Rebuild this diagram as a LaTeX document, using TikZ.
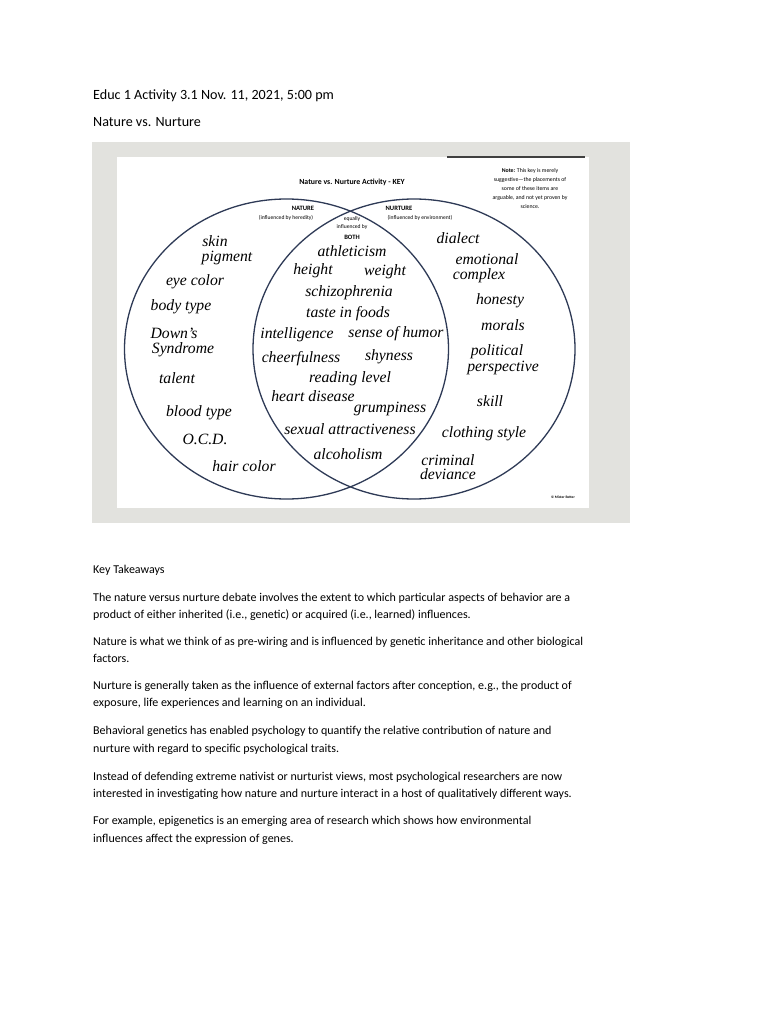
\documentclass[tikz,border=0pt]{standalone}
\usepackage{fontspec}
\setsansfont{Carlito}
\newfontfamily\hwfont{Liberation Serif}
\newcommand{\hw}{\hwfont\itshape}
\definecolor{frame}{HTML}{E2E2DE}
\definecolor{ring}{HTML}{2E3A56}
\begin{document}
\begin{tikzpicture}[x=1pt,y=-1pt,
  para/.style={anchor=west,inner sep=0pt,font=\sffamily\fontsize{12}{14}\selectfont,text height=8.5pt,text depth=2pt},
  head/.style={para,font=\sffamily\fontsize{14.1}{16}\selectfont,text height=10pt,text depth=2.5pt},
  item/.style={inner sep=0pt,yshift=-2.5pt,font=\hw\fontsize{15.7}{17}\selectfont,text height=8pt,text depth=2.4pt},
  lbl/.style={inner sep=0pt,font=\sffamily\bfseries\fontsize{6.6}{7}\selectfont},
  sub/.style={inner sep=0pt,font=\sffamily\fontsize{5.6}{6}\selectfont},
  note/.style={inner sep=0pt,font=\sffamily\fontsize{5.8}{9.2}\selectfont,align=center}]
\useasboundingbox (0,0) rectangle (768,1024);
\fill[white] (0,0) rectangle (768,1024);
% header text
\node[head] (h1) at (93,96) {Educ 1 Activity 3.1 Nov. 11, 2021, 5:00 pm};
\node[head] (h2) at (93,123) {Nature vs. Nurture};
% picture frame
\fill[frame] (92,142) rectangle (630,523);
\fill[white] (117,157) rectangle (589,508);
\draw[black!75,line width=1.2pt] (447,157) -- (585,157);
% circles
\draw[ring,line width=1.3pt] (286.5,349) ellipse [x radius=162,y radius=150];
\draw[ring,line width=1.3pt] (414,349) ellipse [x radius=161,y radius=150];
% labels
\node[lbl,font=\sffamily\bfseries\fontsize{7.8}{8}\selectfont] (title) at (352,182) {Nature vs. Nurture Activity - KEY};
\node[lbl] (nat) at (303,208) {NATURE};
\node[sub] (nats) at (286,217.5) {(influenced by heredity)};
\node[lbl] (nur) at (399,208) {NURTURE};
\node[sub] (nurs) at (420,218) {(influenced by environment)};
\node[sub] (eq1) at (352,219) {equally};
\node[sub] (eq2) at (352,227.5) {influenced by};
\node[lbl] (both) at (352,237) {BOTH};
\node[note] (note) at (530,188.5) {\textbf{Note:} This key is merely\\suggestive---the placements of\\some of these items are\\arguable, and not yet proven by\\science.};
\node[inner sep=0pt,font=\sffamily\bfseries\fontsize{3.6}{4}\selectfont] (copy) at (563,497) {\textcopyright{} Mister Rotter};
% nature items
\node[item] (n1) at (215,241) {skin};
\node[item] (n2) at (227,256) {pigment};
\node[item] (n3) at (195,280) {eye color};
\node[item] (n4) at (181,305) {body type};
\node[item] (n5) at (174,333) {Down’s};
\node[item] (n6) at (183,348) {Syndrome};
\node[item] (n7) at (177,378) {talent};
\node[item] (n8) at (199,411) {blood type};
\node[item] (n9) at (205,439) {O.C.D.};
\node[item] (n10) at (244,466) {hair color};
% both items
\node[item] (b1) at (352,251) {athleticism};
\node[item] (b2) at (313,269) {height};
\node[item] (b3) at (385,270) {weight};
\node[item] (b4) at (349,291) {schizophrenia};
\node[item] (b5) at (348,312) {taste in foods};
\node[item] (b6) at (297,333) {intelligence};
\node[item] (b7) at (396,332) {sense of humor};
\node[item] (b8) at (301,357) {cheerfulness};
\node[item] (b9) at (389,355) {shyness};
\node[item] (b10) at (350,377) {reading level};
\node[item] (b11) at (313,396) {heart disease};
\node[item] (b12) at (390,407) {grumpiness};
\node[item] (b13) at (350,429) {sexual attractiveness};
\node[item] (b14) at (348,454) {alcoholism};
% nurture items
\node[item] (r1) at (458,238) {dialect};
\node[item] (r2) at (487,259) {emotional};
\node[item] (r3) at (479,274) {complex};
\node[item] (r4) at (500,299) {honesty};
\node[item] (r5) at (503,325) {morals};
\node[item] (r6) at (497,350) {political};
\node[item] (r7) at (503,366) {perspective};
\node[item] (r8) at (490,401) {skill};
\node[item] (r9) at (484,432) {clothing style};
\node[item] (r10) at (448,460) {criminal};
\node[item] (r11) at (448,474) {deviance};
% takeaways
\node[para] (k0) at (93,570) {Key Takeaways};
\node[para] (k1) at (93,598) {The nature versus nurture debate involves the extent to which particular aspects of behavior are a};
\node[para] (k2) at (93,615) {product of either inherited (i.e., genetic) or acquired (i.e., learned) influences.};
\node[para] (k3) at (93,642) {Nature is what we think of as pre-wiring and is influenced by genetic inheritance and other biological};
\node[para] (k4) at (93,659) {factors.};
\node[para] (k5) at (93,686) {Nurture is generally taken as the influence of external factors after conception, e.g., the product of};
\node[para] (k6) at (93,703) {exposure, life experiences and learning on an individual.};
\node[para] (k7) at (93,731) {Behavioral genetics has enabled psychology to quantify the relative contribution of nature and};
\node[para] (k8) at (93,749) {nurture with regard to specific psychological traits.};
\node[para] (k9) at (93,777) {Instead of defending extreme nativist or nurturist views, most psychological researchers are now};
\node[para] (k10) at (93,794) {interested in investigating how nature and nurture interact in a host of qualitatively different ways.};
\node[para] (k11) at (93,821) {For example, epigenetics is an emerging area of research which shows how environmental};
\node[para] (k12) at (93,839) {influences affect the expression of genes.};
\end{tikzpicture}
\end{document}
